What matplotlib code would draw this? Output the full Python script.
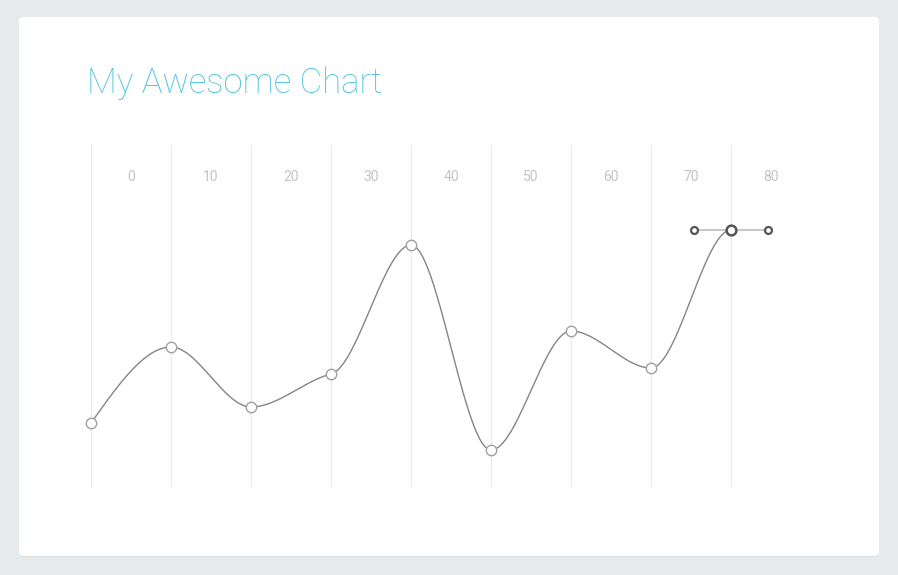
import matplotlib
matplotlib.use("Agg")
import matplotlib.pyplot as plt
import numpy as np
from matplotlib.patches import FancyBboxPatch

# ---- data ----
categories = [0, 1, 2, 3, 4, 5, 6, 7, 8]
values = [64, 140, 80, 113, 242, 37, 156, 119, 257]
tangents = [1.4, 0.0, 0.0, 0.25, 0.0, 0.0, 0.0, 0.0, 0.0]  # curve slope at each point
tick_labels = ["0", "10", "20", "30", "40", "50", "60", "70", "80"]
title = "My Awesome Chart"

W, H = 898, 575
fig = plt.figure(figsize=(W / 100, H / 100), dpi=100)
fig.patch.set_facecolor("#e7eaed")

# card
shadow = FancyBboxPatch((19 / W, (H - 557) / H), 860 / W, 539 / H,
                        boxstyle="round,pad=0,rounding_size=0.006",
                        transform=fig.transFigure, facecolor="#dcdfe2",
                        edgecolor="none", zorder=-2)
card = FancyBboxPatch((19 / W, (H - 556) / H), 860 / W, 539 / H,
                      boxstyle="round,pad=0,rounding_size=0.006",
                      transform=fig.transFigure, facecolor="white",
                      edgecolor="none", zorder=-1)
fig.patches.extend([shadow, card])

fig.text(87 / W, 1 - 93 / H, title, color="#4cc3dd", fontsize=25,
         family="Roboto", fontweight="light", ha="left", va="baseline", zorder=2)

ax = fig.add_axes([91 / W, (H - 487) / H, 720 / W, 342 / H])
ax.set_zorder(1)
ax.set_facecolor("none")
ax.set_xlim(0, 9)
ax.set_ylim(0, 342)
for s in ax.spines.values():
    s.set_visible(False)
ax.set_xticks([])
ax.set_yticks([])

# gridlines
for i in range(len(categories) + 1):
    ax.axvline(i, color="#ebebeb", lw=1, zorder=1)

# labels between gridlines
for c, lab in zip(categories, tick_labels):
    ax.text(c + 0.5, 342 - 32, lab, ha="center", va="center",
            color="#c4c4c4", fontsize=10, family="Roboto", fontweight="normal")

# cubic hermite curve; x unit = 80 px
xs, ys = [], []
for i in range(len(categories) - 1):
    x0, x1 = categories[i], categories[i + 1]
    y0, y1 = values[i], values[i + 1]
    m0, m1 = tangents[i] * 80, tangents[i + 1] * 80
    t = np.linspace(0, 1, 60)
    h00 = 2 * t**3 - 3 * t**2 + 1
    h10 = t**3 - 2 * t**2 + t
    h01 = -2 * t**3 + 3 * t**2
    h11 = t**3 - t**2
    dx = x1 - x0
    xs.append(x0 + t * dx)
    ys.append(h00 * y0 + h10 * dx * m0 + h01 * y1 + h11 * dx * m1)
ax.plot(np.concatenate(xs), np.concatenate(ys), color="#858585", lw=1, zorder=2,
        solid_capstyle="round")

# points
ax.plot(categories[:-1], values[:-1], "o", ms=7.5, mfc="white", mec="#a0a0a0",
        mew=1, zorder=3, linestyle="none", clip_on=False)

# bezier handle on last point
lx, ly = categories[-1], values[-1]
hd = 37 / 80
ax.plot([lx - hd, lx + hd], [ly, ly], color="#bdbdbd", lw=1.2, zorder=2)
ax.plot([lx - hd, lx + hd], [ly, ly], "o", ms=5, mfc="white", mec="#555555",
        mew=1.6, zorder=4, linestyle="none")
ax.plot([lx], [ly], "o", ms=7, mfc="white", mec="#555555", mew=1.8, zorder=4)

fig.savefig("out.png", dpi=100, facecolor=fig.get_facecolor())
